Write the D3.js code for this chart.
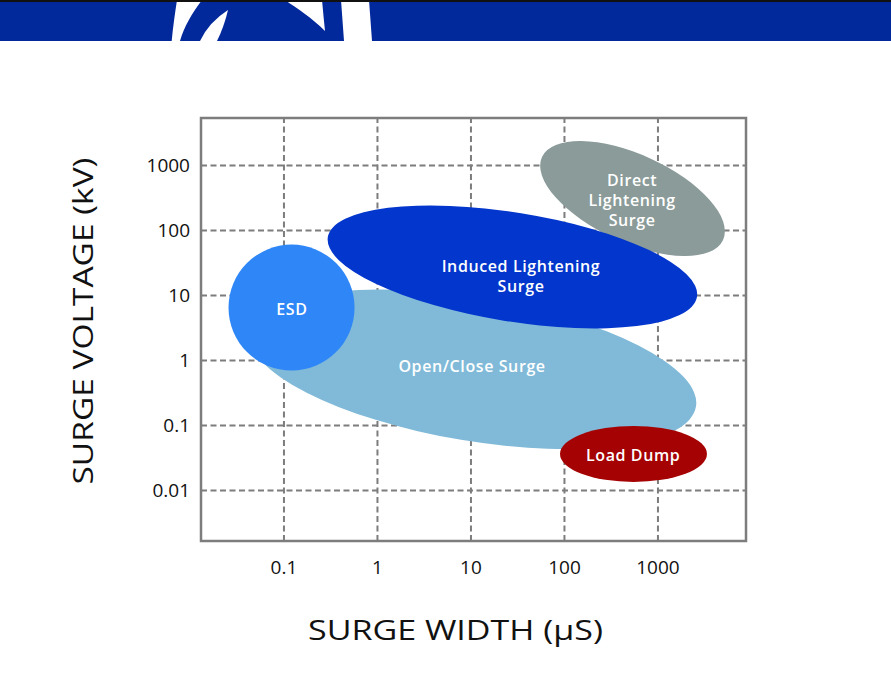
<!DOCTYPE html>
<html><head><meta charset="utf-8">
<script src="https://cdn.jsdelivr.net/npm/d3@7/dist/d3.min.js"></script>
<style>
html,body{margin:0;padding:0;background:#fff;}
svg{display:block;}
text{font-family:"Open Sans","Noto Sans",sans-serif;}
</style></head>
<body>
<svg id="chart" width="891" height="676"></svg>
<script>
// ---- data ----
const xTickValues = [0.1, 1, 10, 100, 1000];
const xTickLabels = ["0.1", "1", "10", "100", "1000"];
const yTickValues = [0.01, 0.1, 1, 10, 100, 1000];
const yTickLabels = ["0.01", "0.1", "1", "10", "100", "1000"];

const regionNames = ["Direct Lightening Surge", "Open/Close Surge", "Induced Lightening Surge", "ESD", "Load Dump"];
const regionLines = [["Direct", "Lightening", "Surge"], ["Open/Close Surge"], ["Induced Lightening", "Surge"], ["ESD"], ["Load Dump"]];
const centerWidth = [541, 10.6, 28.1, 0.122, 554];        // µs
const centerVoltage = [305, 0.72, 27, 6.4, 0.0358];       // kV
const spanWidthDecades = [1.065, 2.42, 2.0, 0.674, 0.786];   // semi-axis (decades of width)
const spanVoltageDecades = [0.674, 1.1, 0.837, 0.969, 0.431]; // semi-axis (decades of voltage)
const tiltDeg = [24.6, 9.5, 9.2, 0, 0];
const labelWidth = [536, 10.4, 34.7, 0.123, 550];
const labelVoltage = [290, 0.81, 19.6, 6.1, 0.0346];
const regionColors = ["#8a9b99", "#80bad8", "#0336cc", "#2f87f7", "#a50303"];

const xTitle = "SURGE WIDTH (µS)";
const yTitle = "SURGE VOLTAGE (kV)";

// ---- layout ----
const svg = d3.select("#chart");
const L = 201, R = 746, T = 118, B = 541;

// header band
const header = svg.append("g");
header.append("rect").attr("x", 0).attr("y", 0).attr("width", 891).attr("height", 41).attr("fill", "#02299c");
const logoPaths = [
  "M171.7,41 C173,27 175,13 177,0 L202,0 C192,13 184,27 180,41 Z",
  "M200,41 Q209,22 228,10 Q224,27 217,41 Z",
  "M285,0 L322,0 C323,11 324,21 325,31 C312,18 298,9 285,0 Z",
  "M341,0 L369,0 C370,14 371,27 372,41 L344,41 C343,27 342,14 341,0 Z"
];
header.selectAll("path.logo").data(logoPaths).join("path").attr("class", "logo").attr("d", d => d).attr("fill", "#fff");
header.append("rect").attr("x", 0).attr("y", 0).attr("width", 891).attr("height", 2).attr("fill", "#111");

const x = d3.scaleLog().domain([Math.pow(10, -1.882), Math.pow(10, 3.947)]).range([L, R]);
const y = d3.scaleLog().domain([Math.pow(10, -2.785), Math.pow(10, 3.723)]).range([B, T]);
const xDec = x(10) - x(1);
const yDec = y(1) - y(10);

// grid + axes
const gx = svg.append("g").attr("transform", `translate(0,${B})`)
  .call(d3.axisBottom(x).tickValues(xTickValues).tickFormat((d, i) => xTickLabels[i]).tickSize(-(B - T)).tickPadding(20));
const gy = svg.append("g").attr("transform", `translate(${L},0)`)
  .call(d3.axisLeft(y).tickValues(yTickValues).tickFormat((d, i) => yTickLabels[i]).tickSize(-(R - L)).tickPadding(11));
[gx, gy].forEach(g => {
  g.select(".domain").remove();
  g.selectAll(".tick line").attr("stroke", "#7d7d7d").attr("stroke-width", 2).attr("stroke-dasharray", "6,3.5");
  g.selectAll(".tick text").attr("fill", "#111").attr("font-size", 19).attr("font-family", "'Open Sans',sans-serif");
});
gy.selectAll(".tick text").attr("dy", "0.35em");

// regions
const regions = svg.append("g");
regionNames.forEach((name, i) => {
  regions.append("ellipse")
    .attr("cx", 0).attr("cy", 0)
    .attr("rx", spanWidthDecades[i] * xDec)
    .attr("ry", spanVoltageDecades[i] * yDec)
    .attr("transform", `translate(${x(centerWidth[i])},${y(centerVoltage[i])}) rotate(${tiltDeg[i]})`)
    .attr("fill", regionColors[i]);
});
regionNames.forEach((name, i) => {
  const lines = regionLines[i];
  const t = regions.append("text")
    .attr("x", x(labelWidth[i])).attr("y", y(labelVoltage[i]))
    .attr("text-anchor", "middle").attr("fill", "#fff")
    .attr("font-size", 16).attr("font-weight", 600).attr("letter-spacing", 0.6);
  lines.forEach((ln, k) => {
    t.append("tspan").attr("x", x(labelWidth[i]))
      .attr("dy", k === 0 ? `${(0.35 - (lines.length - 1) * 0.625)}em` : "1.25em")
      .text(ln);
  });
});

// border
svg.append("rect").attr("x", L).attr("y", T).attr("width", R - L).attr("height", B - T)
  .attr("fill", "none").attr("stroke", "#7d7d7d").attr("stroke-width", 2.5);

// titles
svg.append("text").attr("x", 455.5).attr("y", 640).attr("text-anchor", "middle")
  .attr("font-size", 27).attr("fill", "#111")
  .attr("textLength", 295).attr("lengthAdjust", "spacingAndGlyphs").text(xTitle);
svg.append("text").attr("transform", "translate(93,321) rotate(-90)").attr("text-anchor", "middle")
  .attr("font-size", 27).attr("fill", "#111")
  .attr("textLength", 327).attr("lengthAdjust", "spacingAndGlyphs").text(yTitle);
</script>
</body></html>
